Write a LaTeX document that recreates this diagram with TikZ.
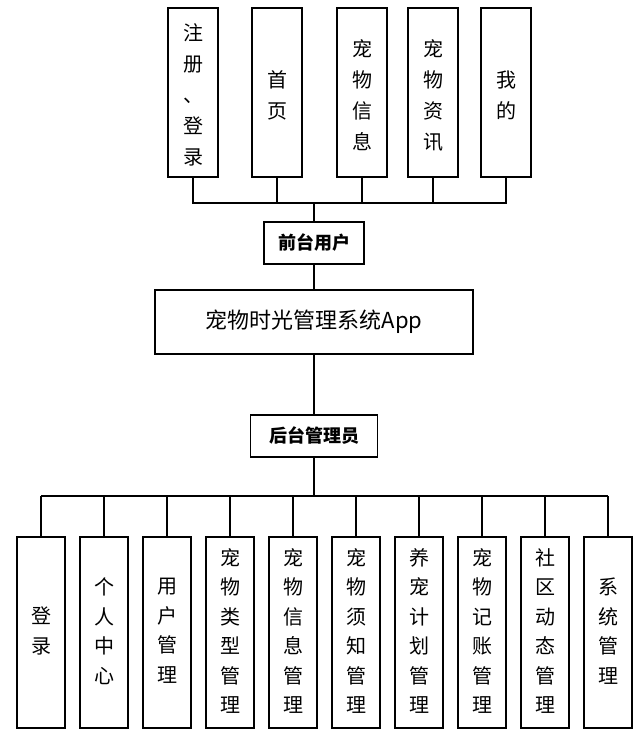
\documentclass[tikz,border=0pt]{standalone}
\usepackage{fontspec}
\newfontfamily\cjk{Noto Sans CJK SC}
\begin{document}
\begin{tikzpicture}[x=1pt,y=-1pt,
  box/.style={draw,line width=1.2pt,minimum width=50pt,minimum height=169pt,inner sep=0pt},
  tall/.style={draw,line width=1.2pt,minimum width=48pt,minimum height=191pt,inner sep=0pt},
  mid/.style={draw,line width=1.2pt,inner sep=0pt},
  vt/.style={align=center,font=\cjk\fontsize{20}{31}\selectfont},
  vb/.style={align=center,font=\cjk\fontsize{20}{29.5}\selectfont},
  ln/.style={line width=1.2pt}]
\useasboundingbox (0,0) rectangle (644,738);
% top
\foreach \n/\x/\t in {t1/193/{注\\册\\、\\登\\录},t2/277/{首\\页},t3/362/{宠\\物\\信\\息},t4/433/{宠\\物\\资\\讯},t5/506/{我\\的}}{
  \node[box] (\n) at (\x,92.5) {};
  \node[vt] at (\x,95) {\t};
}
\node[mid,minimum width=100pt,minimum height=42pt,font=\cjk\bfseries\fontsize{18}{20}\selectfont] (fu) at (314,243) {前台用户};
\node[mid,minimum width=318pt,minimum height=64pt,font=\cjk\fontsize{22}{24}\selectfont] (app) at (314,322) {宠物时光管理系统App};
\node[mid,minimum width=127pt,minimum height=42pt,font=\cjk\bfseries\fontsize{18}{20}\selectfont] (gl) at (314,436) {后台管理员};
\coordinate (tb) at (314,203);
\coordinate (bb) at (314,496);
\draw[ln] (t1.south) |- (tb) -| (t5.south);
\foreach \n in {t2,t3,t4}{\draw[ln] (\n.south) |- (tb);}
\draw[ln] (tb) -- (fu.north);
\draw[ln] (fu.south) -- (app.north);
\draw[ln] (app.south) -- (gl.north);
\draw[ln] (gl.south) -- (bb);
% bottom
\foreach \i/\t in {0/{登\\录},1/{个\\人\\中\\心},2/{用\\户\\管\\理},3/{宠\\物\\类\\型\\管\\理},4/{宠\\物\\信\\息\\管\\理},5/{宠\\物\\须\\知\\管\\理},6/{养\\宠\\计\\划\\管\\理},7/{宠\\物\\记\\账\\管\\理},8/{社\\区\\动\\态\\管\\理},9/{系\\统\\管\\理}}{
  \node[tall] (b\i) at (41+63*\i,632.5) {};
  \node[vb] at (41+63*\i,631) {\t};
  \draw[ln] (b\i.north) -- (41+63*\i,496);
}
\draw[ln] (b0.north |- bb) -- (b9.north |- bb);
\end{tikzpicture}
\end{document}
